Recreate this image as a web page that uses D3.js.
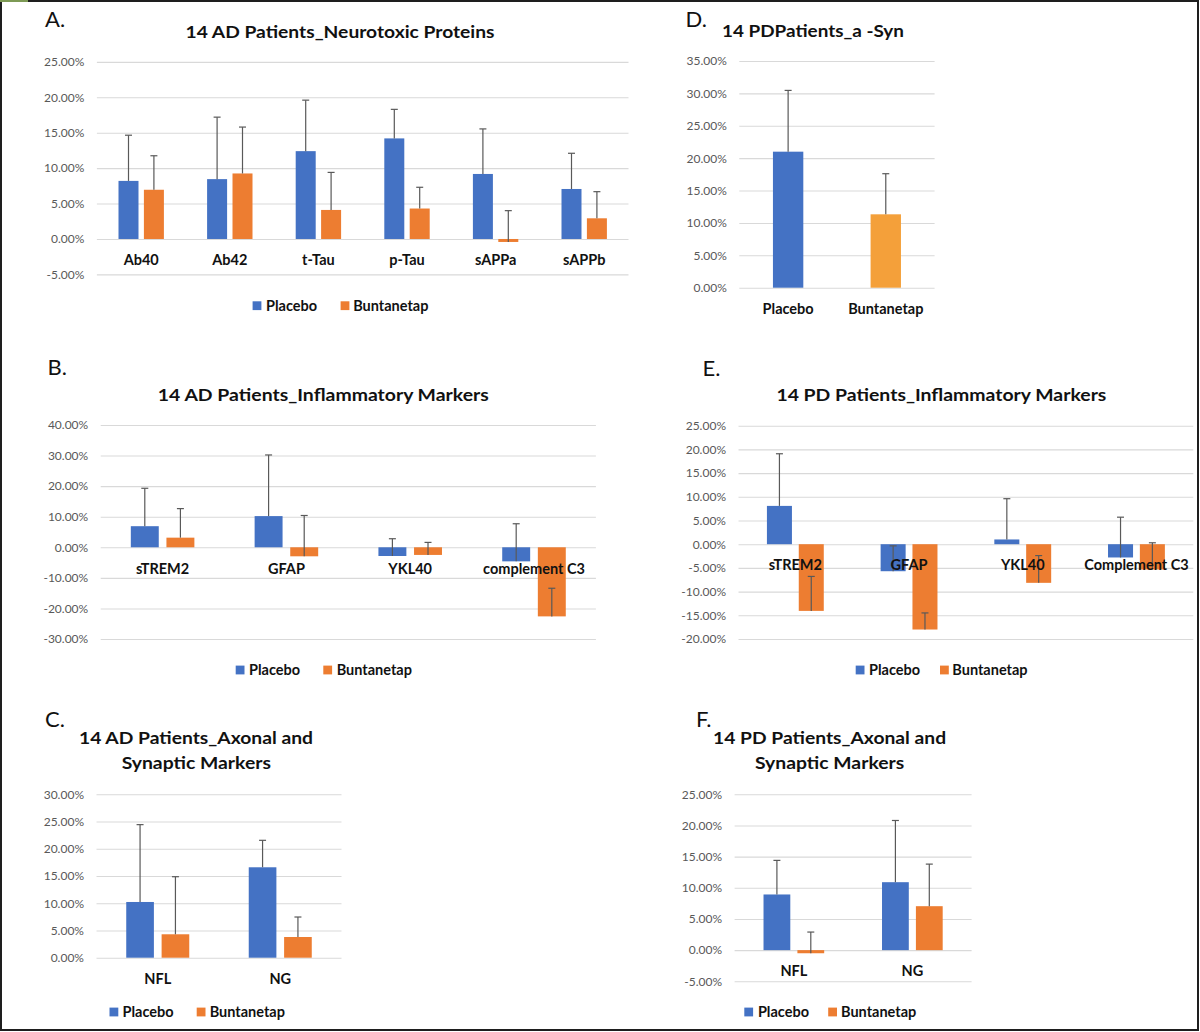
<!DOCTYPE html>
<html>
<head>
<meta charset="utf-8">
<script src="https://cdn.jsdelivr.net/npm/d3@7"></script>
<style>
  html, body { margin: 0; padding: 0; background: #ffffff; }
  svg { display: block; font-family: Lato, "Open Sans", sans-serif; }
</style>
</head>
<body>
<script>
// ---------------- DATA (percent change) ----------------
const seriesNames = ["Placebo", "Buntanetap"];

// A. 14 AD Patients_Neurotoxic Proteins
const aCategories = ["Ab40", "Ab42", "t-Tau", "p-Tau", "sAPPa", "sAPPb"];
const aPlacebo       = [8.2, 8.45, 12.4, 14.2, 9.18, 7.06];
const aPlaceboErr    = [6.45, 8.75, 7.2, 4.1, 6.36, 5.04];
const aBuntanetap    = [6.95, 9.25, 4.1, 4.3, -0.42, 2.92];
const aBuntanetapErr = [4.8, 6.55, 5.3, 3.0, 4.42, 3.76];
const aTicks = [25, 20, 15, 10, 5, 0, -5];

// B. 14 AD Patients_Inflammatory Markers
const bCategories = ["sTREM2", "GFAP", "YKL40", "complement C3"];
const bPlacebo       = [6.9, 10.2, -2.85, -4.6];
const bPlaceboErr    = [12.4, 20.0, 5.65, 12.3];
const bBuntanetap    = [3.15, -2.95, -2.5, -22.6];
const bBuntanetapErr = [9.5, 13.35, 4.1, 9.2];
const bTicks = [40, 30, 20, 10, 0, -10, -20, -30];

// C. 14 AD Patients_Axonal and Synaptic Markers
const cCategories = ["NFL", "NG"];
const cPlacebo       = [10.23, 16.6];
const cPlaceboErr    = [14.2, 4.95];
const cBuntanetap    = [4.3, 3.8];
const cBuntanetapErr = [10.57, 3.67];
const cTicks = [30, 25, 20, 15, 10, 5, 0];

// D. 14 PDPatients_a -Syn
const dCategories = ["Placebo", "Buntanetap"];
const dValues = [21.0, 11.33];
const dErr    = [9.46, 6.27];
const dTicks = [35, 30, 25, 20, 15, 10, 5, 0];

// E. 14 PD Patients_Inflammatory Markers
const eCategories = ["sTREM2", "GFAP", "YKL40", "Complement C3"];
const ePlacebo       = [8.08, -5.7, 1.0, -2.8];
const ePlaceboErr    = [11.0, 5.35, 8.6, 8.5];
const eBuntanetap    = [-14.07, -18.0, -8.15, -5.35];
const eBuntanetapErr = [7.27, 3.5, 5.75, 5.65];
const eTicks = [25, 20, 15, 10, 5, 0, -5, -10, -15, -20];

// F. 14 PD Patients_Axonal and Synaptic Markers
const fCategories = ["NFL", "NG"];
const fPlacebo       = [8.93, 10.9];
const fPlaceboErr    = [5.47, 9.9];
const fBuntanetap    = [-0.5, 7.05];
const fBuntanetapErr = [3.4, 6.75];
const fTicks = [25, 20, 15, 10, 5, 0, -5];

// ---------------- STYLE ----------------
const BLUE = "#4472C4", ORANGE = "#ED7D31", ORANGE_D = "#F4A03A";
const GRID = "#d9d9d9", TICK_TXT = "#595959", ERR = "#595959";

const svg = d3.select("body").append("svg")
  .attr("width", 1200).attr("height", 1032);

svg.append("rect").attr("x", 0).attr("y", 0).attr("width", 1200).attr("height", 1032).attr("fill", "#fff");

const fmt = v => (v < 0 ? "-" : "") + Math.abs(v).toFixed(2) + "%";

function drawPanel(cfg) {
  const g = svg.append("g");
  const y = d3.scaleLinear().domain(cfg.yDomain).range([cfg.yBottom, cfg.yTop]);
  const x = d3.scaleBand().domain(cfg.categories).range([cfg.x0, cfg.x1]).paddingInner(0).paddingOuter(0);
  const band = x.bandwidth();

  // grid + tick labels
  const ax = g.append("g").attr("transform", `translate(${cfg.x0},0)`)
    .call(d3.axisLeft(y).tickValues(cfg.ticks).tickFormat(fmt).tickSize(-(cfg.x1 - cfg.x0)).tickPadding(12.5));
  ax.select(".domain").remove();
  ax.selectAll(".tick line").attr("stroke", GRID).attr("stroke-width", 1.1);
  ax.selectAll(".tick text").attr("fill", TICK_TXT).style("font-family", "Lato").style("font-size", "12px");

  // bars
  const n = cfg.series.length;
  const bw = band * cfg.barFrac, gap = band * cfg.gapFrac;
  const total = n * bw + (n - 1) * gap;
  const items = [];
  cfg.series.forEach((s, si) => {
    cfg.categories.forEach((c, ci) => {
      const xs = x(c) + band / 2 - total / 2 + si * (bw + gap);
      items.push({ x: xs, w: bw, v: s.values[ci], e: s.errors[ci],
                   color: Array.isArray(s.color) ? s.color[ci] : s.color });
    });
  });
  g.selectAll("rect.bar").data(items).enter().append("rect")
    .attr("class", "bar")
    .attr("x", d => d.x).attr("width", d => d.w)
    .attr("y", d => Math.min(y(d.v), y(0)))
    .attr("height", d => Math.abs(y(d.v) - y(0)))
    .attr("fill", d => d.color);

  // error bars (plus direction)
  const eb = g.selectAll("g.err").data(items).enter().append("g").attr("class", "err");
  eb.append("line")
    .attr("x1", d => d.x + d.w / 2).attr("x2", d => d.x + d.w / 2)
    .attr("y1", d => y(d.v)).attr("y2", d => y(d.v + d.e))
    .attr("stroke", ERR).attr("stroke-width", 1.2);
  eb.append("line")
    .attr("x1", d => d.x + d.w / 2 - 3.5).attr("x2", d => d.x + d.w / 2 + 3.5)
    .attr("y1", d => y(d.v + d.e)).attr("y2", d => y(d.v + d.e))
    .attr("stroke", ERR).attr("stroke-width", 1.2);

  // category labels
  g.selectAll("text.cat").data(cfg.categories).enter().append("text")
    .attr("class", "cat")
    .attr("x", d => x(d) + band / 2).attr("y", y(0) + 21).attr("dy", "0.36em")
    .attr("text-anchor", "middle")
    .style("font-family", "Lato").style("font-weight", "bold").style("font-size", "14.5px")
    .attr("fill", "#111").text(d => d);

  // panel letter
  g.append("text").attr("x", cfg.letter.x).attr("y", cfg.letter.y)
    .style("font-family", "Lato").style("font-size", "22px").attr("fill", "#111").text(cfg.letter.text);

  // title
  cfg.title.forEach(t => {
    g.append("text").attr("x", t.cx).attr("y", t.cy).attr("dy", "0.36em")
      .attr("text-anchor", "middle")
      .attr("textLength", t.w).attr("lengthAdjust", "spacingAndGlyphs")
      .style("font-family", "Lato").style("font-weight", "bold").style("font-size", "17px")
      .attr("fill", "#111").text(t.text);
  });

  // legend
  if (cfg.legend) {
    const L = cfg.legend, sq = 8.8;
    cfg.series.forEach((s, i) => {
      g.append("rect").attr("x", L.sq[i]).attr("y", L.y - sq / 2).attr("width", sq).attr("height", sq).attr("fill", s.color);
      g.append("text").attr("x", L.tx[i]).attr("y", L.y).attr("dy", "0.36em")
        .style("font-family", "Lato").style("font-weight", "bold").style("font-size", "14.5px")
        .attr("fill", "#111").text(s.name);
    });
  }
}

const pair = (p, pe, b, be) => [
  { name: seriesNames[0], values: p, errors: pe, color: BLUE },
  { name: seriesNames[1], values: b, errors: be, color: ORANGE }
];

drawPanel({
  categories: aCategories, series: pair(aPlacebo, aPlaceboErr, aBuntanetap, aBuntanetapErr),
  ticks: aTicks, yDomain: [-5, 25], yBottom: 274.4, yTop: 61.9, x0: 96.9, x1: 628.5,
  barFrac: 0.2257, gapFrac: 0.061,
  letter: { text: "A.", x: 45, y: 27 },
  title: [{ text: "14 AD Patients_Neurotoxic Proteins", cx: 340, cy: 31.5, w: 309 }],
  legend: { y: 305.7, sq: [252.6, 340.6], tx: [266, 353.2] }
});

drawPanel({
  categories: dCategories,
  series: [{ name: "a-Syn", values: dValues, errors: dErr, color: [BLUE, ORANGE_D] }],
  ticks: dTicks, yDomain: [0, 35], yBottom: 287.7, yTop: 61.0, x0: 739.3, x1: 934.6,
  barFrac: 0.311, gapFrac: 0,
  letter: { text: "D.", x: 685.5, y: 27 },
  title: [{ text: "14 PDPatients_a -Syn", cx: 813, cy: 31, w: 182 }],
  legend: null
});

drawPanel({
  categories: bCategories, series: pair(bPlacebo, bPlaceboErr, bBuntanetap, bBuntanetapErr),
  ticks: bTicks, yDomain: [-30, 40], yBottom: 639, yTop: 425, x0: 100.7, x1: 595.9,
  barFrac: 0.2257, gapFrac: 0.062,
  letter: { text: "B.", x: 47.5, y: 375 },
  title: [{ text: "14 AD Patients_Inflammatory Markers", cx: 323.3, cy: 394.5, w: 331 }],
  legend: { y: 670, sq: [235.7, 323.3], tx: [249, 336.7] }
});

drawPanel({
  categories: eCategories, series: pair(ePlacebo, ePlaceboErr, eBuntanetap, eBuntanetapErr),
  ticks: eTicks, yDomain: [-20, 25], yBottom: 639, yTop: 425.7, x0: 738.5, x1: 1193.3,
  barFrac: 0.22, gapFrac: 0.06,
  letter: { text: "E.", x: 702.5, y: 375.5 },
  title: [{ text: "14 PD Patients_Inflammatory Markers", cx: 941.4, cy: 394.5, w: 330 }],
  legend: { y: 670, sq: [855.7, 940], tx: [869, 952.3] }
});

drawPanel({
  categories: cCategories, series: pair(cPlacebo, cPlaceboErr, cBuntanetap, cBuntanetapErr),
  ticks: cTicks, yDomain: [0, 30], yBottom: 957.7, yTop: 794.3, x0: 96.5, x1: 341.5,
  barFrac: 0.2257, gapFrac: 0.063,
  letter: { text: "C.", x: 45, y: 726.7 },
  title: [{ text: "14 AD Patients_Axonal and", cx: 196, cy: 737.5, w: 234 },
          { text: "Synaptic Markers", cx: 196.3, cy: 763, w: 149.3 }],
  legend: { y: 1012, sq: [109.5, 196.7], tx: [122.5, 209.7] }
});

drawPanel({
  categories: fCategories, series: pair(fPlacebo, fPlaceboErr, fBuntanetap, fBuntanetapErr),
  ticks: fTicks, yDomain: [-5, 25], yBottom: 981.3, yTop: 794.3, x0: 734.6, x1: 971.6,
  barFrac: 0.226, gapFrac: 0.06,
  letter: { text: "F.", x: 696, y: 726.7 },
  title: [{ text: "14 PD Patients_Axonal and", cx: 829.6, cy: 737.5, w: 233 },
          { text: "Synaptic Markers", cx: 829.6, cy: 763, w: 149.3 }],
  legend: { y: 1012, sq: [744.3, 828.2], tx: [757.9, 841] }
});

// outer frame
svg.append("rect").attr("x", 1).attr("y", 1).attr("width", 1197).attr("height", 1029)
  .attr("fill", "none").attr("stroke", "#1e1e1e").attr("stroke-width", 2);
svg.append("rect").attr("x", 0).attr("y", 0).attr("width", 28).attr("height", 2).attr("fill", "#7d9a55");
</script>
</body>
</html>
